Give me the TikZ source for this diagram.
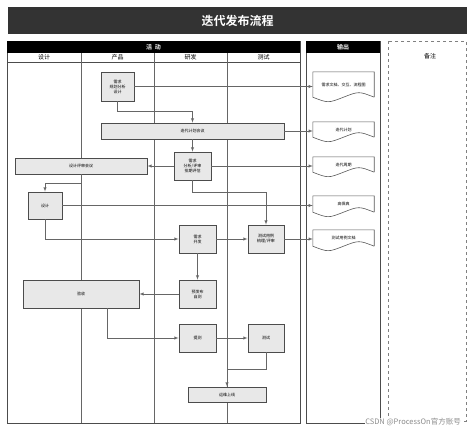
\documentclass[tikz,border=0pt]{standalone}
\usepackage{fontspec}
\setmainfont{Noto Sans CJK SC}[BoldFont={Noto Sans CJK SC Bold}]
\usetikzlibrary{calc,positioning,arrows}

\begin{document}
\begin{tikzpicture}[x=1pt,y=-1pt,
  box/.style={draw=black!70,fill=black!9,line width=0.8pt,align=center,inner sep=0pt,font=\fontsize{4}{5}\selectfont},
  doc/.style={minimum width=61pt,inner sep=0pt,font=\fontsize{4}{5}\selectfont},
  docbd/.style={draw=black!65,line width=0.6pt,fill=white},
  ln/.style={draw=black!60,line width=0.5pt,-latex},
  frame/.style={draw=black!70,line width=0.8pt},
  lane/.style={font=\fontsize{6}{7}\selectfont},
  hd/.style={text=white,font=\bfseries\fontsize{6}{7}\selectfont}]
  \useasboundingbox (0,0) rectangle (474,431);
  % title
  \fill[black!80] (8,7) rectangle (467,34);
  \node[text=white,font=\bfseries\fontsize{12}{14}\selectfont] (tt) at (237.5,20.5) {迭代发布流程};
  % activity lanes
  \draw[frame] (7,41) rectangle (300,423);
  \fill[black] (7,41) rectangle (300,53);
  \node[hd] (ha) at (153.5,47) {活\ \ 动};
  \draw[frame,line width=0.6pt] (7,62) -- (300,62);
  \coordinate (l1) at (81,53);
  \coordinate (l2) at (154,53);
  \coordinate (l3) at (227,53);
  \foreach \l in {l1,l2,l3}
    \draw[draw=black!60,line width=0.7pt] (\l) -- ++(0,370);
  \node[lane] (h1) at (44,57.5) {设计};
  \node[lane] (h2) at (117.5,57.5) {产品};
  \node[lane] (h3) at (190.5,57.5) {研发};
  \node[lane] (h4) at (263.5,57.5) {测试};
  % output and notes
  \draw[frame] (306,41) rectangle (380,423);
  \fill[black] (306,41) rectangle (380,53);
  \node[hd] (ho) at (343,47) {输出};
  \draw[draw=black!50,dashed,line width=0.6pt] (388,41) rectangle (466,421);
  \node[lane] (hn) at (430,56) {备注};

  \node[box,minimum width=33pt,minimum height=29pt] (p1) at (117.5,86.5) {需求\\规划分析\\设计};
  \node[box,minimum width=183pt,minimum height=16pt] (m1) at (192.5,131) {迭代计划会议};
  \node[box,minimum width=132pt,minimum height=16pt] (s1) at (81,166) {设计评审会议};
  \node[box,minimum width=37pt,minimum height=28pt] (r1) at (192.5,166) {需求\\分析/评审\\排期评估};
  \node[box,minimum width=34pt,minimum height=27pt] (s2) at (45,205.5) {设计};
  \node[box,minimum width=37pt,minimum height=28pt] (r2) at (197.5,239) {需求\\开发};
  \node[box,minimum width=36pt,minimum height=28pt] (t1) at (266,239) {测试用例\\梳理/评审};
  \node[box,minimum width=116pt,minimum height=28pt] (s3) at (81,294) {验收};
  \node[box,minimum width=37pt,minimum height=28pt] (r3) at (197.5,294) {预发布\\自测};
  \node[box,minimum width=37pt,minimum height=28pt] (r4) at (197.5,338) {提测};
  \node[box,minimum width=36pt,minimum height=28pt] (t2) at (266,338) {测试};
  \node[box,minimum width=78pt,minimum height=15pt] (t3) at (227,394.5) {运维上线};

  \node[doc,minimum height=25pt] (o1) at (343.5,84.5) {};
  \node[doc,minimum height=15pt] (o2) at (343.5,129.5) {};
  \node[doc,minimum height=15pt] (o3) at (343.5,164.5) {};
  \node[doc,minimum height=16pt] (o4) at (343.5,204) {};
  \node[doc,minimum height=16pt] (o5) at (343.5,238) {};
  \foreach \n in {o1,o2,o3,o4,o5}
    \draw[docbd] (\n.south east) -- (\n.north east) -- (\n.north west) -- (\n.south west)
      .. controls ($(\n.south west)!.5!(\n.south)+(0,6)$) .. (\n.south)
      .. controls ($(\n.south)!.5!(\n.south east)+(0,-6)$) .. (\n.south east);
  \node[doc] at (o1) {需求文档、交互、流程图};
  \node[doc] at (o2) {迭代计划};
  \node[doc] at (o3) {迭代周期};
  \node[doc] at (o4) {高保真};
  \node[doc] at (o5) {测试用例文档};

  \draw[ln] (p1.east) -- (p1.east -| o1.west);
  \draw[ln] (p1.south) -- ++(0,10) -| (r1.north |- m1.north);
  \draw[ln] (m1.east) -- (m1.east -| o2.west);
  \draw[ln] (r1.north |- m1.south) -- (r1.north);
  \draw[ln] (r1.west) -- (s1.east);
  \draw[ln] (r1.east) -- (r1.east -| o3.west);
  \draw[ln] (s1.south -| l1) -- ++(0,9) -| (s2.north);
  \draw[ln] (r1.south) -- ++(0,12) -| (t1.north);
  \draw[ln] (s2.east) -- (s2.east -| o4.west);
  \draw[ln] (s2.south) |- (r2.west);
  \draw[ln] (r2.east) -- (t1.west);
  \draw[ln] (t1.east) -- (t1.east -| o5.west);
  \draw[ln] (r2.south) -- (r3.north);
  \draw[ln] (r3.west) -- (s3.east);
  \draw[ln] ($(s3.south)+(26,0)$) |- (r4.west);
  \draw[ln] (r4.east) -- (t2.west);
  \draw[ln] (t2.south) -- ++(0,17) -| (t3.north);

  \node[fill=white,inner sep=0.5pt,text=black!45,font=\fontsize{7.5}{8}\selectfont] (wm) at (413,422) {CSDN @ProcessOn官方账号};
\end{tikzpicture}
\end{document}
